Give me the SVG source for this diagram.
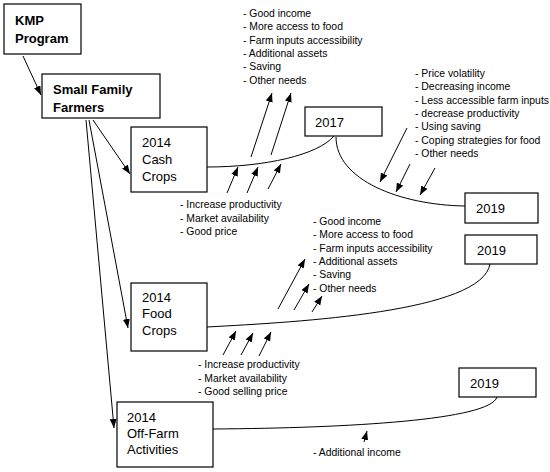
<svg xmlns="http://www.w3.org/2000/svg" width="550" height="472" viewBox="0 0 550 472">
<style>
.box{fill:#fff;stroke:#000;stroke-width:1.2}
.bt{font-family:"Liberation Sans",Arial,sans-serif;font-size:13px;fill:#000}
.bb{font-family:"Liberation Sans",Arial,sans-serif;font-size:13px;font-weight:bold;fill:#000}
.lt{font-family:"Liberation Sans",Arial,sans-serif;font-size:10.4px;fill:#000}
.ln{fill:none;stroke:#000;stroke-width:1}
.ar{fill:none;stroke:#000;stroke-width:1;marker-end:url(#ah)}
</style>
<defs>
<marker id="ah" markerUnits="userSpaceOnUse" markerWidth="10" markerHeight="8" refX="9" refY="3.5" orient="auto">
<path d="M0,0 L9,3.5 L0,7 z" fill="#000"/>
</marker>
</defs>
<rect width="550" height="472" fill="#fff"/>
<g id="connectors">
<line class="ar" x1="23" y1="56" x2="41" y2="95"/>
<line class="ar" x1="93" y1="120" x2="130" y2="174"/>
<line class="ar" x1="89" y1="120" x2="128" y2="328"/>
<line class="ar" x1="86" y1="120" x2="114" y2="428"/>
<path class="ln" d="M207,167 C265,167 318,155 334,136"/>
<path class="ln" d="M336,137 C336,180 400,205 465,206"/>
<path class="ln" d="M207,327 C300,322 482,312 490,264"/>
<path class="ln" d="M213,429 C350,428 490,420 497,397"/>
<line class="ar" x1="251" y1="157" x2="272" y2="93"/>
<line class="ar" x1="271" y1="155" x2="291" y2="93"/>
<line class="ar" x1="227" y1="193" x2="238" y2="167"/>
<line class="ar" x1="247" y1="193" x2="258" y2="167"/>
<line class="ar" x1="268" y1="189" x2="281" y2="164"/>
<line class="ar" x1="407" y1="128" x2="380" y2="182"/>
<line class="ar" x1="410" y1="164" x2="396" y2="192"/>
<line class="ar" x1="435" y1="168" x2="420" y2="195"/>
<line class="ar" x1="278" y1="309" x2="305" y2="259"/>
<line class="ar" x1="294" y1="310" x2="309" y2="284"/>
<line class="ar" x1="312" y1="312" x2="322" y2="296"/>
<line class="ar" x1="223" y1="355" x2="236" y2="331"/>
<line class="ar" x1="241" y1="355" x2="253" y2="333"/>
<line class="ar" x1="259" y1="356" x2="271" y2="332"/>
<line class="ar" x1="364" y1="442" x2="367" y2="431"/>
</g>
<g id="kmp">
<rect class="box" x="4" y="4" width="77" height="50"/>
<text class="bb" x="15" y="25">KMP</text>
<text class="bb" x="15" y="43">Program</text>
</g>
<g id="sff">
<rect class="box" x="42" y="74" width="118" height="44"/>
<text class="bb" x="53" y="94">Small Family</text>
<text class="bb" x="53" y="112">Farmers</text>
</g>
<g id="cash">
<rect class="box" x="131" y="127" width="76" height="65"/>
<text class="bt" x="142" y="147">2014</text>
<text class="bt" x="142" y="164">Cash</text>
<text class="bt" x="142" y="181">Crops</text>
</g>
<g id="food">
<rect class="box" x="131" y="283" width="76" height="68"/>
<text class="bt" x="142" y="302">2014</text>
<text class="bt" x="142" y="318">Food</text>
<text class="bt" x="142" y="335">Crops</text>
</g>
<g id="offfarm">
<rect class="box" x="117" y="402" width="96" height="65"/>
<text class="bt" x="127" y="422">2014</text>
<text class="bt" x="127" y="438">Off-Farm</text>
<text class="bt" x="127" y="454">Activities</text>
</g>
<g id="y2017">
<rect class="box" x="305" y="107" width="77" height="29"/>
<text class="bt" x="315" y="127">2017</text>
</g>
<g id="y2019a">
<rect class="box" x="465" y="193" width="73" height="30"/>
<text class="bt" x="476" y="213">2019</text>
</g>
<g id="y2019b">
<rect class="box" x="465" y="235" width="72" height="29"/>
<text class="bt" x="477" y="255">2019</text>
</g>
<g id="y2019c">
<rect class="box" x="459" y="368" width="77" height="29"/>
<text class="bt" x="470" y="388">2019</text>
</g>
<g id="cash-outcomes">
<text class="lt" x="243" y="17">- Good income</text>
<text class="lt" x="243" y="30">- More access to food</text>
<text class="lt" x="243" y="44">- Farm inputs accessibility</text>
<text class="lt" x="243" y="57">- Additional assets</text>
<text class="lt" x="243" y="70">- Saving</text>
<text class="lt" x="243" y="84">- Other needs</text>
</g>
<g id="cash-inputs">
<text class="lt" x="180" y="208">- Increase productivity</text>
<text class="lt" x="180" y="222">- Market availability</text>
<text class="lt" x="180" y="235">- Good price</text>
</g>
<g id="decline">
<text class="lt" x="415" y="77">- Price volatility</text>
<text class="lt" x="415" y="90">- Decreasing income</text>
<text class="lt" x="415" y="104">- Less accessible farm inputs</text>
<text class="lt" x="415" y="117">- decrease productivity</text>
<text class="lt" x="415" y="130">- Using saving</text>
<text class="lt" x="415" y="144">- Coping strategies for food</text>
<text class="lt" x="415" y="157">- Other needs</text>
</g>
<g id="food-outcomes">
<text class="lt" x="313" y="225">- Good income</text>
<text class="lt" x="313" y="238">- More access to food</text>
<text class="lt" x="313" y="252">- Farm inputs accessibility</text>
<text class="lt" x="313" y="265">- Additional assets</text>
<text class="lt" x="313" y="278">- Saving</text>
<text class="lt" x="313" y="292">- Other needs</text>
</g>
<g id="food-inputs">
<text class="lt" x="198" y="368">- Increase productivity</text>
<text class="lt" x="198" y="382">- Market availability</text>
<text class="lt" x="198" y="395">- Good selling price</text>
</g>
<g id="offfarm-inputs">
<text class="lt" x="313" y="456">- Additional income</text>
</g>
</svg>
